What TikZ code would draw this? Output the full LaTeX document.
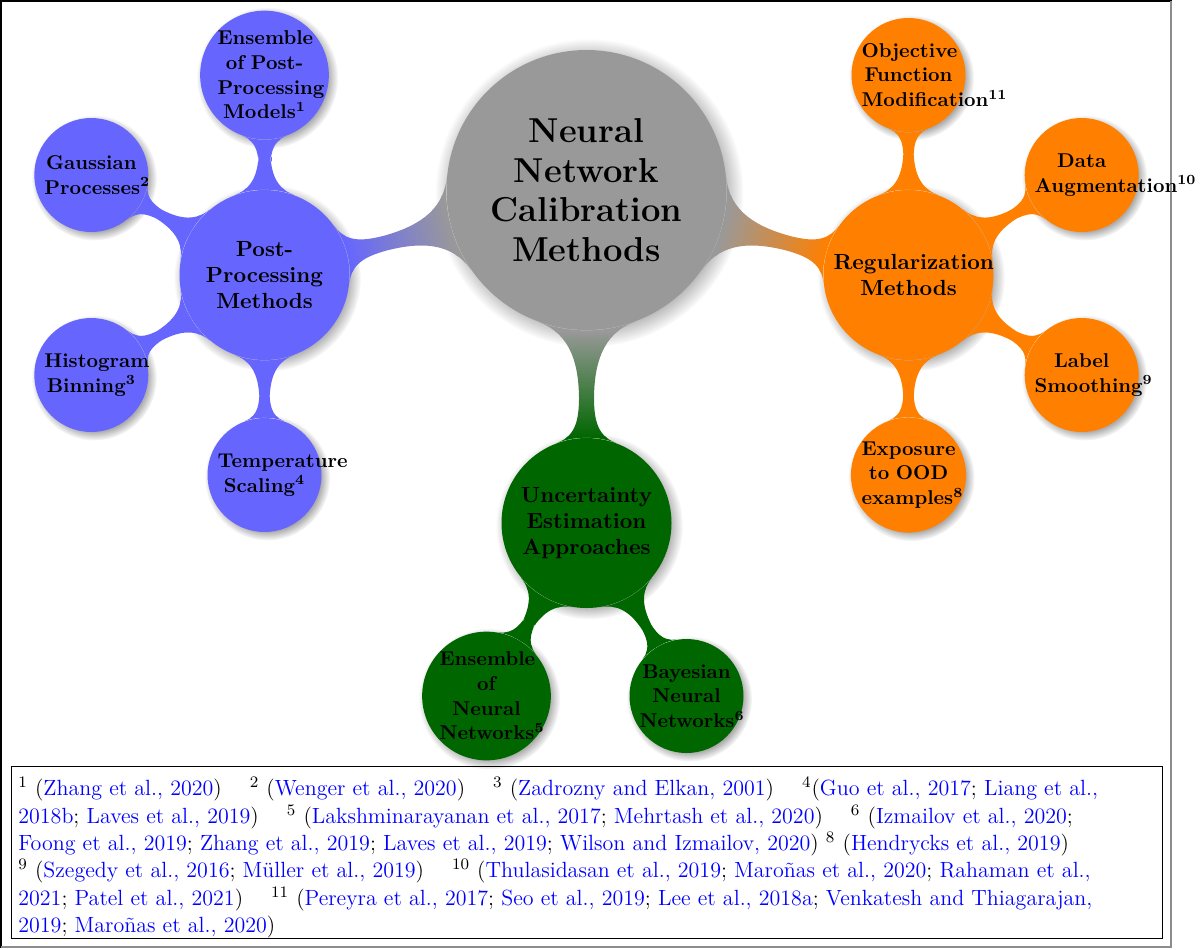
\documentclass[tikz,border=0pt]{standalone}
\usetikzlibrary{mindmap,shadows}
\definecolor{ppblue}{rgb}{0.4,0.4,1}
\definecolor{regorange}{rgb}{1,0.5,0}
\definecolor{uncgreen}{rgb}{0,0.4,0}
\definecolor{rootgray}{rgb}{0.6,0.6,0.6}
\definecolor{citeblue}{rgb}{0,0,1}
\newcommand{\cit}[1]{\textcolor{citeblue}{#1}}
\begin{document}
\begin{tikzpicture}[x=0.5pt,y=-0.5pt,
  cbase/.style={circle, inner sep=0pt, align=center, text=black, circular drop shadow={fill=black!32}, fill=#1},
  rootc/.style={cbase=rootgray, minimum size=140pt, text width=110pt, font=\fontsize{17.28}{19.8}\selectfont\bfseries},
  lvlone/.style={cbase=#1, minimum size=85pt, text width=75pt, font=\fontsize{10.95}{13}\selectfont\bfseries},
  lvltwo/.style={cbase=#1, minimum size=57pt, text width=47pt, font=\fontsize{10}{12.3}\selectfont\bfseries},
  bar/.style args={#1>#2}{circle connection bar switch color=from (#1) to (#2)},
]
\useasboundingbox (0,0) rectangle (1200,949);
% outer frame
\draw[line width=1pt] (1,1) rectangle (1171,947);
\draw[line width=1.2pt, black!45] (1171,1) -- (1171,947) -- (1,947);
% nodes
\node[rootc] (root) at (586.5,190) {Neural\\Network\\Calibration\\Methods};
\node[lvlone=ppblue] (pp) at (264.5,275) {Post-\\Processing\\Methods};
\node[lvlone=regorange] (reg) at (908.5,275) {Regularization\\Methods};
\node[lvlone=uncgreen] (unc) at (586.5,523) {Uncertainty\\Estimation\\Approaches};
\node[lvltwo=ppblue] (enspp) at (264.5,75) {Ensemble\\of Post-\\Processing\\Models\textsuperscript{1}};
\node[lvltwo=ppblue] (gauss) at (91.3,175) {Gaussian\\Processes\textsuperscript{2}};
\node[lvltwo=ppblue] (hist) at (91.3,375) {Histogram\\Binning\textsuperscript{3}};
\node[lvltwo=ppblue] (temp) at (264.5,475) {Temperature\\Scaling\textsuperscript{4}};
\node[lvltwo=regorange] (obj) at (908.5,75) {Objective\\Function\\Modification\textsuperscript{11}};
\node[lvltwo=regorange] (data) at (1081.7,175) {Data\\Augmentation\textsuperscript{10}};
\node[lvltwo=regorange] (label) at (1081.7,375) {Label\\Smoothing\textsuperscript{9}};
\node[lvltwo=regorange] (expo) at (908.5,475) {Exposure\\to OOD\\examples\textsuperscript{8}};
\node[lvltwo=uncgreen] (ensnn) at (486.5,696) {Ensemble\\of\\Neural\\Networks\textsuperscript{5}};
\node[lvltwo=uncgreen] (bnn) at (686.5,696) {Bayesian\\Neural\\Networks\textsuperscript{6}};
% connectors
\path (root) to[bar=rootgray>ppblue] (pp);
\path (root) to[bar=rootgray>regorange] (reg);
\path (root) to[bar=rootgray>uncgreen] (unc);
\path (pp) to[bar=ppblue>ppblue] (enspp);
\path (pp) to[bar=ppblue>ppblue] (gauss);
\path (pp) to[bar=ppblue>ppblue] (hist);
\path (pp) to[bar=ppblue>ppblue] (temp);
\path (reg) to[bar=regorange>regorange] (obj);
\path (reg) to[bar=regorange>regorange] (data);
\path (reg) to[bar=regorange>regorange] (label);
\path (reg) to[bar=regorange>regorange] (expo);
\path (unc) to[bar=uncgreen>uncgreen] (ensnn);
\path (unc) to[bar=uncgreen>uncgreen] (bnn);
% references box
\draw[line width=0.5pt] (11,766) rectangle (1162,938);
\node[anchor=north west, inner sep=0pt, align=left, font=\fontsize{11}{13.7}\selectfont] (refs) at (18,777) {%
$^1$ (\cit{Zhang et al., 2020})\hspace{14pt}$^2$ (\cit{Wenger et al., 2020})\hspace{14pt}$^3$ (\cit{Zadrozny and Elkan, 2001})\hspace{14pt}$^4$(\cit{Guo et al., 2017}; \cit{Liang et al.,}\\
\cit{2018b}; \cit{Laves et al., 2019})\hspace{14pt}$^5$ (\cit{Lakshminarayanan et al., 2017}; \cit{Mehrtash et al., 2020})\hspace{14pt}$^6$ (\cit{Izmailov et al., 2020};\\
\cit{Foong et al., 2019}; \cit{Zhang et al., 2019}; \cit{Laves et al., 2019}; \cit{Wilson and Izmailov, 2020}) $^8$ (\cit{Hendrycks et al., 2019})\\
$^9$ (\cit{Szegedy et al., 2016}; \cit{Müller et al., 2019})\hspace{14pt}$^{10}$ (\cit{Thulasidasan et al., 2019}; \cit{Maroñas et al., 2020}; \cit{Rahaman et al.,}\\
\cit{2021}; \cit{Patel et al., 2021})\hspace{14pt}$^{11}$ (\cit{Pereyra et al., 2017}; \cit{Seo et al., 2019}; \cit{Lee et al., 2018a}; \cit{Venkatesh and Thiagarajan,}\\
\cit{2019}; \cit{Maroñas et al., 2020})};
\end{tikzpicture}
\end{document}
